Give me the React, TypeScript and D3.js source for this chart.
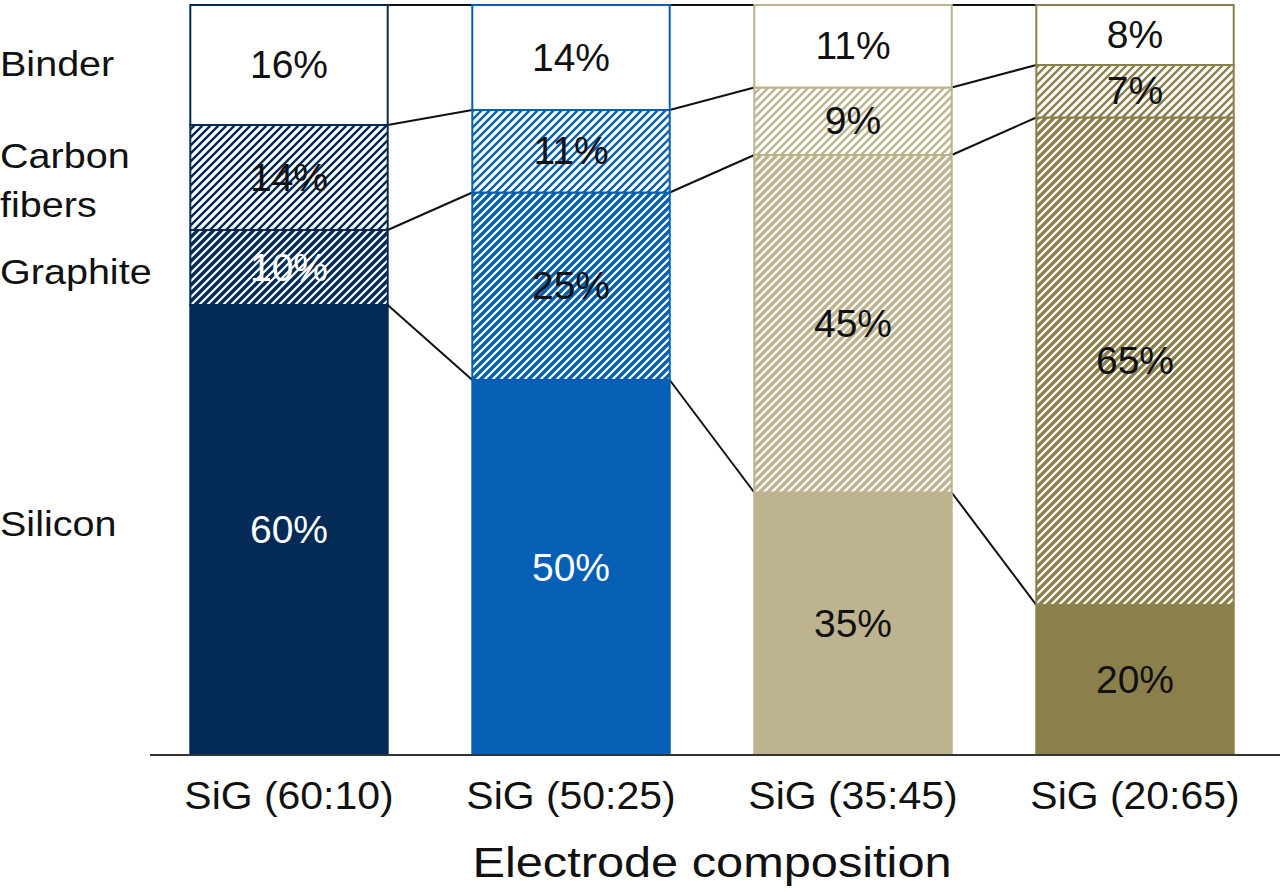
import React from "react";
import * as d3 from "d3";

const categories = ["SiG (60:10)", "SiG (50:25)", "SiG (35:45)", "SiG (20:65)"];
const components = ["Silicon", "Graphite", "Carbon fibers", "Binder"];
const silicon = [60, 50, 35, 20];
const graphite = [10, 25, 45, 65];
const carbonFibers = [14, 11, 9, 7];
const binder = [16, 14, 11, 8];
const yTicksDomain = [0, 100];
const axisTitle = "Electrode composition";
const leftLabelLines = [["Silicon"], ["Graphite"], ["Carbon", "fibers"], ["Binder"]];

// styles
const barColors = ["#032b56", "#0560b5", "#bdb48f", "#8b7f4b"];
// which value labels are white, per category, per component
const whiteLabel = [
  [true, true, false, false],
  [true, false, false, false],
  [false, false, false, false],
  [false, false, false, false],
];
const leftLabelDy = [6, 16, -10, 11];
const FONT = "'Liberation Sans', Arial, Helvetica, sans-serif";

const W = 1280;
const H = 894;

export default function App() {
  const rows = categories.map((c, i) => ({
    category: c,
    Silicon: silicon[i],
    Graphite: graphite[i],
    "Carbon fibers": carbonFibers[i],
    Binder: binder[i],
  }));
  const series = d3.stack<any>().keys(components)(rows);

  const x = d3
    .scaleBand<string>()
    .domain(categories)
    .range([148, 1276])
    .paddingInner(0.3)
    .paddingOuter(0.15);
  const y = d3.scaleLinear().domain(yTicksDomain).range([755, 5]);
  const bw = x.bandwidth();

  const patternIdFilled = (i: number) => `hatchFilled${i}`;
  const patternIdLight = (i: number) => `hatchLight${i}`;

  const fillFor = (compIdx: number, catIdx: number) => {
    if (compIdx === 0) return barColors[catIdx];
    if (compIdx === 1) return `url(#${patternIdFilled(catIdx)})`;
    if (compIdx === 2) return `url(#${patternIdLight(catIdx)})`;
    return "#ffffff";
  };

  // connector lines
  const connectors: { x1: number; y1: number; x2: number; y2: number }[] = [];
  series.forEach((s) => {
    for (let i = 0; i < categories.length - 1; i++) {
      connectors.push({
        x1: (x(categories[i]) as number) + bw,
        y1: y(s[i][1]),
        x2: x(categories[i + 1]) as number,
        y2: y(s[i + 1][1]),
      });
    }
  });

  const P = 8;
  const hatchPath = `M${-P},${P * 2} L${P * 2},${-P} M${-P},${P} L${P},${-P} M0,${P * 2} L${P * 2},0`;

  return (
    <svg
      width={W}
      height={H}
      style={{ position: "absolute", left: 0, top: 0, display: "block", background: "#fff" }}
    >
      <defs>
        {barColors.map((c, i) => (
          <React.Fragment key={i}>
            <pattern
              id={patternIdFilled(i)}
              patternUnits="userSpaceOnUse"
              width={P}
              height={P}
            >
              <rect width={P} height={P} fill={c} />
              <path d={hatchPath} stroke="#ffffff" strokeWidth={2.2} />
            </pattern>
            <pattern
              id={patternIdLight(i)}
              patternUnits="userSpaceOnUse"
              width={P}
              height={P}
            >
              <rect width={P} height={P} fill="#ffffff" />
              <path d={hatchPath} stroke={c} strokeWidth={2.4} />
            </pattern>
          </React.Fragment>
        ))}
      </defs>

      {/* connectors */}
      {connectors.map((l, i) => (
        <line key={i} x1={l.x1} y1={l.y1} x2={l.x2} y2={l.y2} stroke="#111" strokeWidth={2} />
      ))}

      {/* bars */}
      {series.map((s, ci) =>
        s.map((d, i) => (
          <rect
            key={`${ci}-${i}`}
            x={x(categories[i])}
            y={y(d[1])}
            width={bw}
            height={y(d[0]) - y(d[1])}
            fill={fillFor(ci, i)}
            stroke={barColors[i]}
            strokeWidth={2}
          />
        ))
      )}

      {/* value labels */}
      {series.map((s, ci) =>
        s.map((d, i) => {
          const cx = (x(categories[i]) as number) + bw / 2;
          const cy = (y(d[0]) + y(d[1])) / 2 + 13;
          return (
            <text
              key={`t${ci}-${i}`}
              x={cx}
              y={cy}
              textAnchor="middle"
              fontFamily={FONT}
              fontSize={39}
              fill={whiteLabel[i][ci] ? "#ffffff" : "#111111"}
            >
              {`${d[1] - d[0]}%`}
            </text>
          );
        })
      )}

      {/* left component labels */}
      {series.map((s, ci) => {
        const cy = (y(s[0][0]) + y(s[0][1])) / 2 + leftLabelDy[ci];
        return (
          <g key={`ll${ci}`} transform={`translate(0,${cy}) scale(1.13,1)`}>
            {leftLabelLines[ci].map((ln, k) => (
              <text key={k} x={0} y={k * 50} fontFamily={FONT} fontSize={35} fill="#111">
                {ln}
              </text>
            ))}
          </g>
        );
      })}

      {/* x axis */}
      <line x1={150} x2={1280} y1={y(0)} y2={y(0)} stroke="#333" strokeWidth={2} />
      {categories.map((c) => (
        <text
          key={c}
          transform={`translate(${(x(c) as number) + bw / 2},${y(0) + 54}) scale(1.05,1)`}
          textAnchor="middle"
          fontFamily={FONT}
          fontSize={39}
          fill="#111"
        >
          {c}
        </text>
      ))}
      <text
        transform={`translate(${(150 + 1280) / 2 - 3},877) scale(1.16,1)`}
        textAnchor="middle"
        fontFamily={FONT}
        fontSize={42}
        fill="#111"
      >
        {axisTitle}
      </text>
    </svg>
  );
}
